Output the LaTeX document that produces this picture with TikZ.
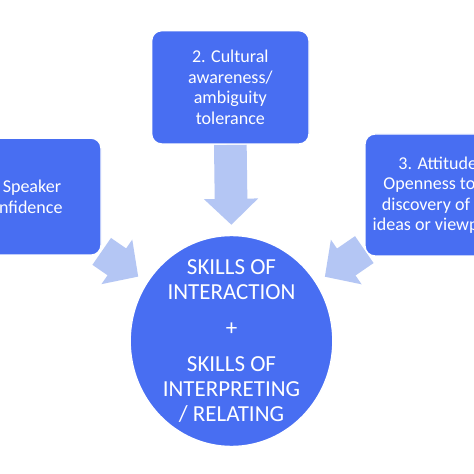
\documentclass[tikz,border=0pt]{standalone}
\usepackage{fontspec}
\setmainfont{Carlito}
\usepackage{xcolor}
\usepackage{tikz}
\usetikzlibrary{shapes.geometric, arrows.meta, positioning, backgrounds}

\definecolor{boxblue}{RGB}{72,110,242}
\definecolor{arrowblue}{RGB}{180,198,244}

\begin{document}
\begin{tikzpicture}[
    factor/.style={rectangle, rounded corners=0.3cm, fill=boxblue, draw=white, line width=1.2pt,
        minimum width=4.72cm, text=white, align=center,
        font=\fontsize{15.4}{17.5}\selectfont},
    core/.style={ellipse, fill=boxblue, draw=white, line width=1.2pt, inner sep=0pt,
        minimum width=6.08cm, minimum height=6.33cm},
    coretext/.style={text=white, align=center, font=\fontsize{19.6}{21.3}\selectfont},
    blockarrow/.style={draw=arrowblue, line width=0.98cm,
        -{Triangle[length=0.78cm, width=1.58cm, fill=arrowblue]}, shorten >=0.3cm}
]
\useasboundingbox[clip] (0,0) rectangle (14.22,14.22);

% Factors
\node[factor, minimum height=3.40cm] (cultural) at (6.91,11.60) {2. Cultural\\awareness/\\ambiguity\\tolerance};
\node[factor, minimum height=3.51cm] (speaker) at (0.67,8.32) {1. Speaker\\confidence};
\node[factor, minimum height=3.66cm] (attitude) at (13.31,8.37) {3. Attitudes:\\Openness to the\\discovery of new\\ideas or viewpoints};

% Skills
\node[core] (skills) at (6.945,3.99) {};
\node[coretext] (skillstext) at (skills.center) {SKILLS OF\\INTERACTION\\[9.4pt]+\\[9.4pt]SKILLS OF\\INTERPRETING\\/ RELATING};

% Arrows
\begin{scope}[on background layer]
\fill[white] (0,0) rectangle (14.22,14.22);
\draw[blockarrow] (cultural.south) -- (skills.north);
\draw[blockarrow] (speaker) -- (skills);
\draw[blockarrow] (attitude) -- (skills);
\end{scope}

\end{tikzpicture}
\end{document}
